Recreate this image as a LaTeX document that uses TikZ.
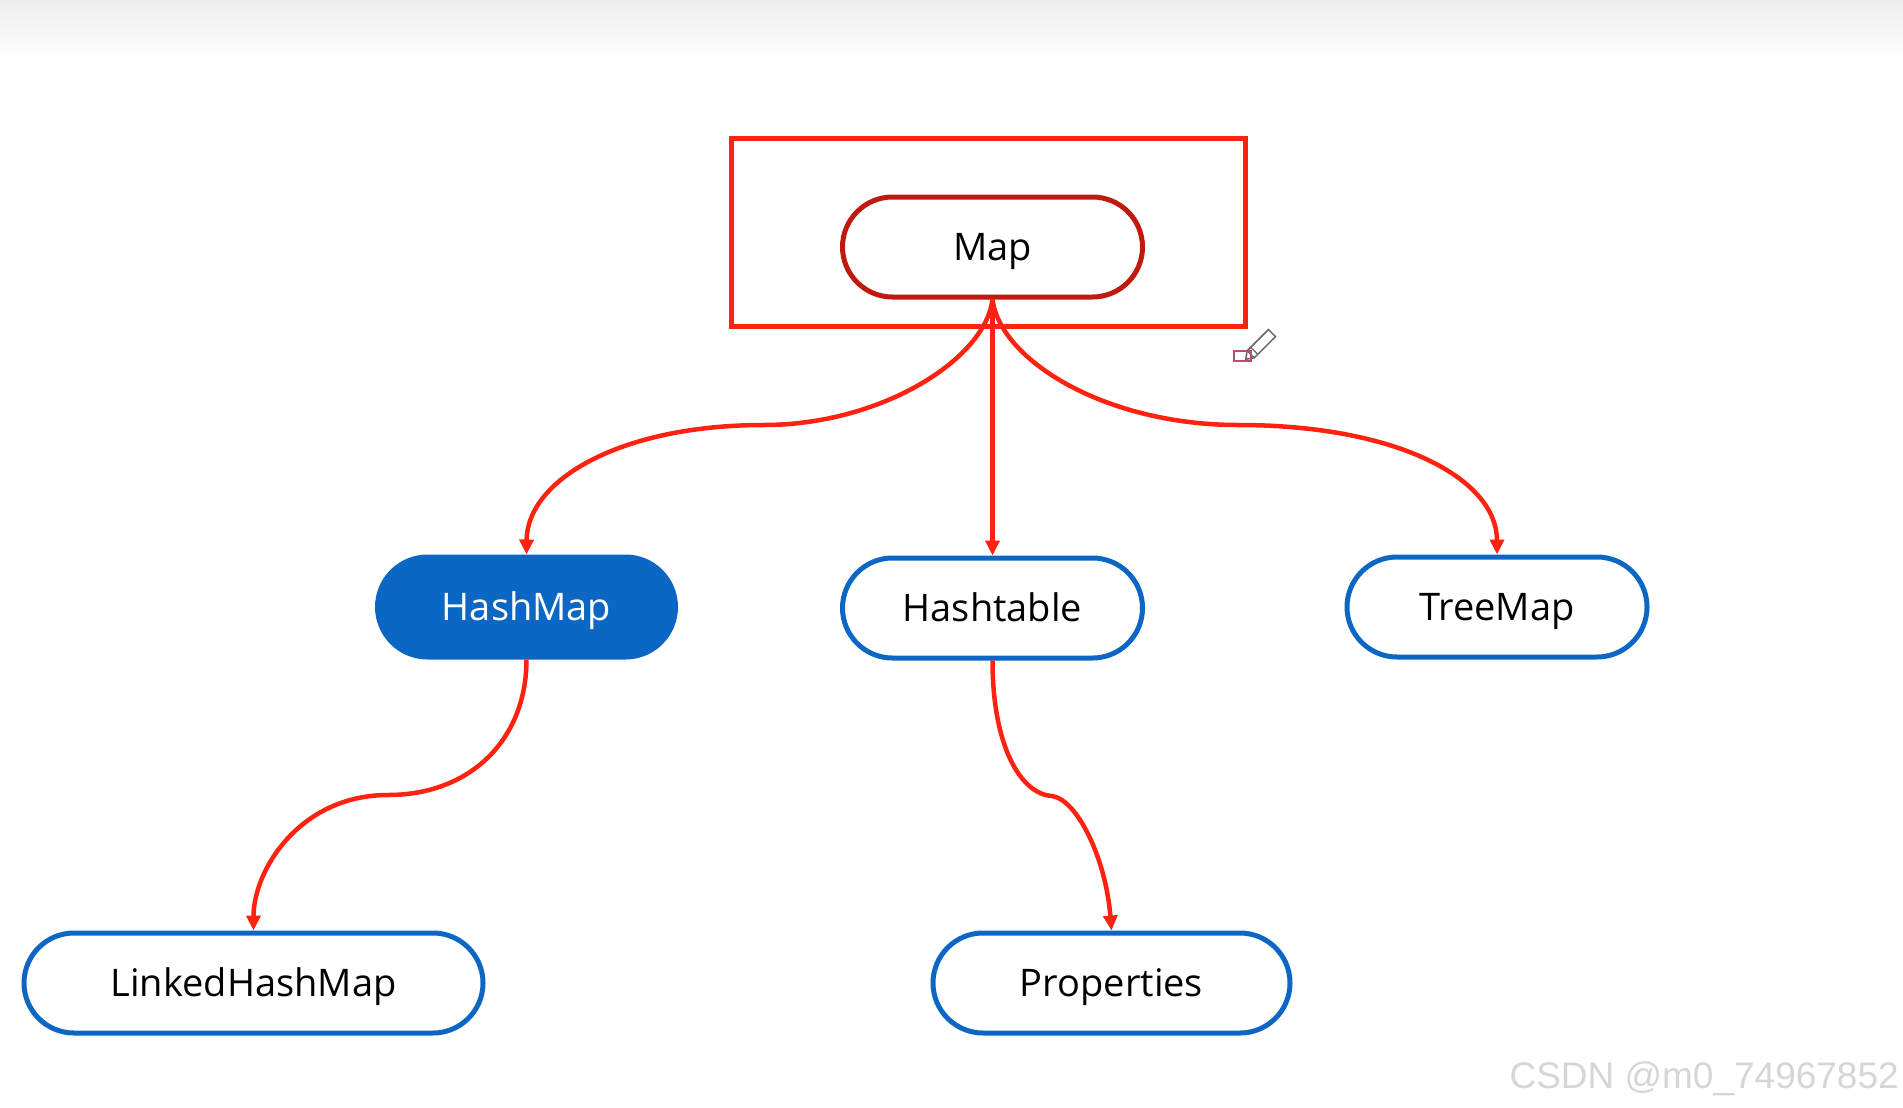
\documentclass[tikz,border=0pt]{standalone}
\usepackage{fontspec}
\setmainfont{Open Sans}
\newfontfamily\wmfont{Liberation Sans}
\usetikzlibrary{arrows.meta,shapes.misc}
\definecolor{redline}{HTML}{FF2210}
\definecolor{mapborder}{HTML}{C01A10}
\definecolor{blueline}{HTML}{0B67C3}
\tikzset{
  pill/.style={draw=blueline, line width=5pt, fill=white, rounded corners=50pt,
    minimum height=100pt, inner sep=0pt, text=black, text height=27pt, text depth=0pt,
    font=\fontsize{38}{44}\selectfont},
  link/.style={draw=redline, line width=4.5pt, -{Triangle[length=15pt,width=14pt]}},
}
\begin{document}
\begin{tikzpicture}[x=1pt,y=-1pt]
\useasboundingbox (0,0) rectangle (1903,1108);
\fill[white] (0,0) rectangle (1903,1108);
\shade[top color=black!7, bottom color=white] (0,0) rectangle (1903,60);
% highlight rectangle
\draw[redline, line width=5pt] (731,138) rectangle (1245,326);
% nodes
\node[pill, draw=mapborder, minimum width=300pt] (map) at (992.5,247) {Map};
\node[pill, fill=blueline, text=white, minimum width=298pt] (hashmap) at (526.5,607) {HashMap};
\node[pill, minimum width=300pt] (hashtable) at (992.5,608) {Hashtable};
\node[pill, minimum width=300pt] (treemap) at (1497,607) {TreeMap};
\node[pill, minimum width=459pt] (lhm) at (253.5,983) {LinkedHashMap};
\node[pill, minimum width=357pt] (props) at (1111.5,983) {Properties};
% midpoints
\coordinate (ml) at (764,425);
\coordinate (mr) at (1238,425);
\coordinate (mh) at (388,795);
\coordinate (mt) at (1052,796);
% connectors
\draw[link] (map.south) .. controls (985,360) and (880,425) .. (ml)
  .. controls (620,425) and (527,480) .. (hashmap.north);
\draw[link] (map.south) -- (hashtable.north);
\draw[link] (map.south) .. controls (1000,360) and (1105,425) .. (mr)
  .. controls (1400,425) and (1497,480) .. (treemap.north);
\draw[link] (hashmap.south) .. controls (526.5,740) and (470,795) .. (mh)
  .. controls (300,795) and (253.5,870) .. (lhm.north);
\draw[link] (hashtable.south) .. controls (992.5,745) and (1020,794) .. (mt)
  .. controls (1078,800) and (1106,860) .. (props.north);
% cursor
\begin{scope}[shift={(1262,343)}, rotate=45]
  \draw[black!60, fill=white, line width=1.5pt] (-16,-5) rectangle (14,5);
  \draw[black!60, line width=1.5pt] (-16,-5) -- (-23,0) -- (-16,5);
  \draw[black!60, line width=1.2pt] (-11,-5) -- (-11,5);
\end{scope}
\draw[black!20!purple!70, line width=1.5pt] (1234,351) rectangle (1251,361);
% watermark
\node[anchor=base east, text=black!16, font=\wmfont\fontsize{37}{40}\selectfont, inner sep=0pt] (wm) at (1899,1088) {CSDN @m0\_74967852};
\end{tikzpicture}
\end{document}
